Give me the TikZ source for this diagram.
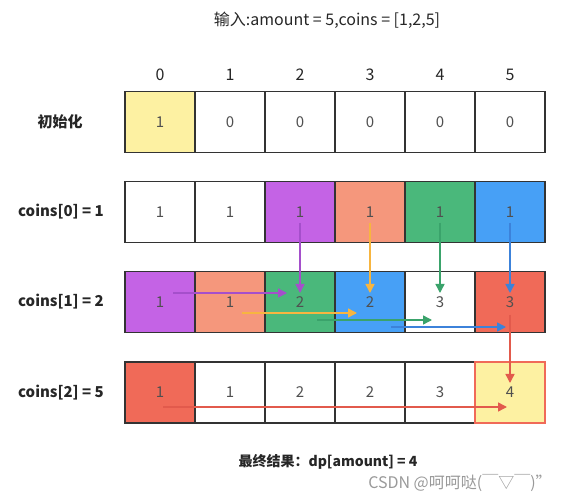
\documentclass[tikz,border=0pt]{standalone}
\usepackage{fontspec}
\setmainfont{Noto Sans CJK SC}
\newfontfamily\cjk{Noto Sans CJK SC}
\usetikzlibrary{calc,arrows.meta}
\definecolor{cyel}{HTML}{FDF1A2}
\definecolor{cpur}{HTML}{C463E5}
\definecolor{csal}{HTML}{F5977C}
\definecolor{cgre}{HTML}{4AB87B}
\definecolor{cblu}{HTML}{47A0F6}
\definecolor{cred}{HTML}{F06A58}
\definecolor{apur}{HTML}{A54FCB}
\definecolor{aora}{HTML}{F7B540}
\definecolor{agre}{HTML}{3AA36B}
\definecolor{ablu}{HTML}{3C82DA}
\definecolor{ared}{HTML}{E25A4C}
\definecolor{txt}{HTML}{505050}
\definecolor{edge}{HTML}{333333}
\begin{document}
\begin{tikzpicture}[x=1pt,y=-1pt,
  cell/.style={draw=edge,line width=1.6pt,minimum width=70pt,minimum height=61pt,inner sep=0pt,font=\fontsize{15}{15}\selectfont,text=txt},
  hdr/.style={font=\fontsize{16}{16}\selectfont,text=black!85},
  lab/.style={font=\bfseries\fontsize{15}{15}\selectfont,text=black!85},
  arr/.style={line width=1.4pt,-{Triangle[length=9pt,width=9pt]}}]
\useasboundingbox (0,0) rectangle (581,502);
\node[font=\fontsize{16}{16}\selectfont,text=black!85] (title) at (327,20) {输入:amount = 5,coins = [1,2,5]};
\foreach \j in {0,...,5} { \node[hdr] (h\j) at (160+70*\j,75) {\j}; }
% row 1
\foreach \j/\v/\f in {0/1/cyel,1/0/white,2/0/white,3/0/white,4/0/white,5/0/white}
  { \node[cell,fill=\f] (a\j) at (160+70*\j,122) {\v}; }
% row 2
\foreach \j/\v/\f in {0/1/white,1/1/white,2/1/cpur,3/1/csal,4/1/cgre,5/1/cblu}
  { \node[cell,fill=\f] (b\j) at (160+70*\j,212) {\v}; }
% row 3
\foreach \j/\v/\f in {0/1/cpur,1/1/csal,2/2/cgre,3/2/cblu,4/3/white,5/3/cred}
  { \node[cell,fill=\f] (c\j) at (160+70*\j,302) {\v}; }
% row 4
\foreach \j/\v/\f in {0/1/cred,1/1/white,2/2/white,3/2/white,4/3/white}
  { \node[cell,fill=\f] (d\j) at (160+70*\j,392.5) {\v}; }
\node[cell,fill=cyel,draw=cred] (d5) at (510,392.5) {4};
% labels
\node[lab] (l1) at (60,122) {初始化};
\node[lab] (l2) at (61,212) {coins[0] = 1};
\node[lab] (l3) at (61,302) {coins[1] = 2};
\node[lab] (l4) at (61,392.5) {coins[2] = 5};
% vertical arrows
\draw[arr,apur] ($(b2.center)+(0,11)$) -- ($(c2.center)+(0,-9)$);
\draw[arr,aora] ($(b3.center)+(0,11)$) -- ($(c3.center)+(0,-9)$);
\draw[arr,agre] ($(b4.center)+(0,11)$) -- ($(c4.center)+(0,-9)$);
\draw[arr,ablu] ($(b5.center)+(0,11)$) -- ($(c5.center)+(0,-9)$);
% horizontal arrows row 3
\draw[arr,apur] ($(c0.center)+(13,-9)$) -- ($(c2.center)+(-13,-9)$);
\draw[arr,aora] ($(c1.center)+(12,11)$) -- ($(c3.center)+(-13,11)$);
\draw[arr,agre] ($(c2.center)+(17,18)$) -- ($(c4.center)+(-8,18)$);
\draw[arr,ablu] ($(c3.center)+(21,25)$) -- ($(c5.center)+(-4,25)$);
% red arrows
\draw[arr,ared] ($(c5.center)+(0,13)$) -- ($(d5.center)+(0,-9.5)$);
\draw[arr,ared] ($(d0.center)+(3,14.5)$) -- ($(d5.center)+(-3,14.5)$);
% bottom
\node[font=\bfseries\fontsize{14}{14}\selectfont,text=black!85] (res) at (328,462) {最终结果：dp[amount] = 4};
\node[font=\fontsize{16}{16}\selectfont,text=black!40] (wm) at (460,483) {CSDN @呵呵哒(￣▽￣)"};
\end{tikzpicture}
\end{document}
